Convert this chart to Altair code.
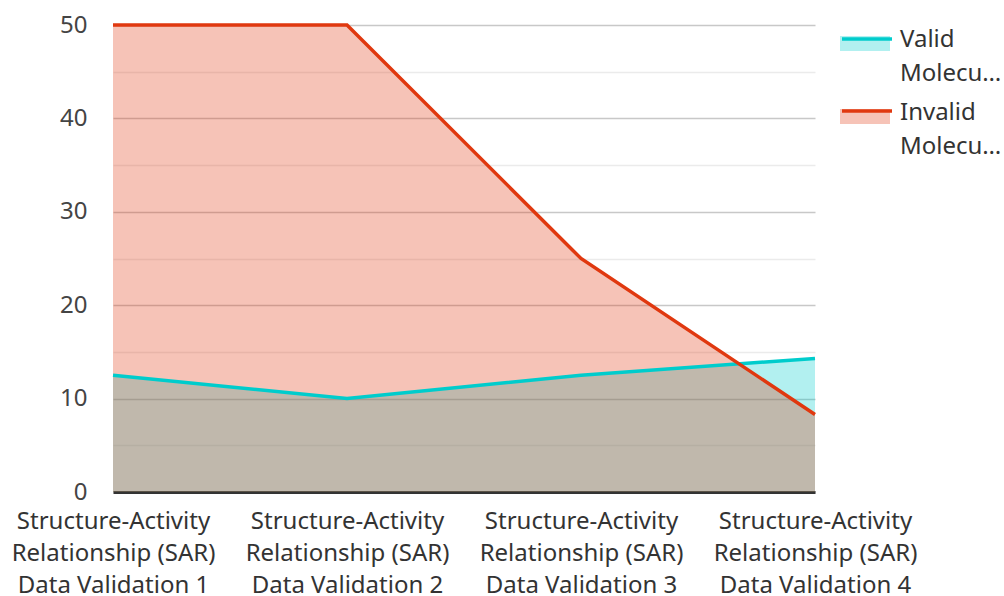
import altair as alt
import pandas as pd

# Validation runs (x categories) and share of molecules per run (%)
categories = [
    "Structure-Activity Relationship (SAR) Data Validation 1",
    "Structure-Activity Relationship (SAR) Data Validation 2",
    "Structure-Activity Relationship (SAR) Data Validation 3",
    "Structure-Activity Relationship (SAR) Data Validation 4",
]
valid_pct = [12.5, 10.0, 12.5, 14.3]
invalid_pct = [50.0, 50.0, 25.0, 8.3]

series = ["Valid Molecules", "Invalid Molecules"]
colors = ["#00cccc", "#e0380f"]
y_ticks = [0, 5, 10, 15, 20, 25, 30, 35, 40, 45, 50]

rows = []
for name, vals in zip(series, [valid_pct, invalid_pct]):
    for cat, v in zip(categories, vals):
        rows.append({"category": cat, "series": name, "series_line": name, "value": v})
df = pd.DataFrame(rows)

FONT = "Noto Sans"
FS = 24

x_enc = alt.X(
    "category:N",
    sort=categories,
    scale=alt.Scale(type="point", padding=0),
    axis=alt.Axis(
        title=None,
        labelAngle=0,
        labelExpr="[slice(datum.label, 0, 18), slice(datum.label, 19, 37), slice(datum.label, 38)]",
        labelFontSize=FS,
        labelLineHeight=32,
        labelColor="#333333",
        labelPadding=17,
        labelLimit=400,
        ticks=False,
        domainColor="#333333",
        domainWidth=3,
        grid=False,
    ),
)

y_enc = alt.Y(
    "value:Q",
    stack=None,
    scale=alt.Scale(domain=[0, 50], nice=False),
    axis=alt.Axis(
        title=None,
        values=y_ticks,
        labelExpr="datum.value % 10 === 0 ? datum.label : ''",
        labelFontSize=FS,
        labelColor="#444444",
        labelPadding=26,
        ticks=False,
        domain=False,
        gridColor={
            "condition": {"test": "datum.value % 10 === 0", "value": "#c8c8c8"},
            "value": "#ebebeb",
        },
        gridWidth=1.5,
    ),
)

# Area legend: light swatch plus the two-line, truncated series label
area_legend = alt.Legend(
    orient="none",
    legendX=727,
    legendY=-10,
    title=None,
    padding=0,
    symbolSize=2500,
    symbolType="M-1,-0.16 L1,-0.16 L1,0.44 L-1,0.44 Z",
    symbolOpacity=0.3,
    symbolStrokeWidth=0,
    labelFontSize=FS,
    labelFont=FONT,
    labelColor="#333333",
    labelLimit=106,
    labelOffset=10,
    rowPadding=2,
    labelExpr="[split(datum.label, ' ')[0], slice(datum.label, indexof(datum.label, ' ') + 1)]",
)

# Line legend: only the coloured stroke, laid over the top edge of each swatch
line_legend = alt.Legend(
    orient="none",
    legendX=727,
    legendY=-13,
    title=None,
    padding=0,
    symbolSize=2500,
    symbolType="M-1,0 L1,0",
    symbolStrokeWidth=3.5,
    labelExpr="''",
    labelFontSize=FS,
    labelOffset=10,
    rowPadding=33,
)

area = alt.Chart(df).mark_area(opacity=0.3).encode(
    x=x_enc,
    y=y_enc,
    fill=alt.Fill(
        "series:N",
        sort=series,
        scale=alt.Scale(domain=series, range=colors),
        legend=area_legend,
    ),
)

line = alt.Chart(df).mark_line(strokeWidth=3.5).encode(
    x=x_enc,
    y=y_enc,
    stroke=alt.Stroke(
        "series_line:N",
        sort=series,
        scale=alt.Scale(range=colors),
        legend=line_legend,
    ),
)

chart = (
    alt.layer(area, line)
    .properties(
        width=702,
        height=467,
        autosize=alt.AutoSizeParams(type="none"),
        padding={"left": 113, "top": 25, "right": 189, "bottom": 104},
    )
    .configure(font=FONT, style={"guide-label": {"lineHeight": 34}})
    .configure_view(stroke=None)
)

chart.save("out.html", embed_options={"renderer": "svg", "actions": False})
